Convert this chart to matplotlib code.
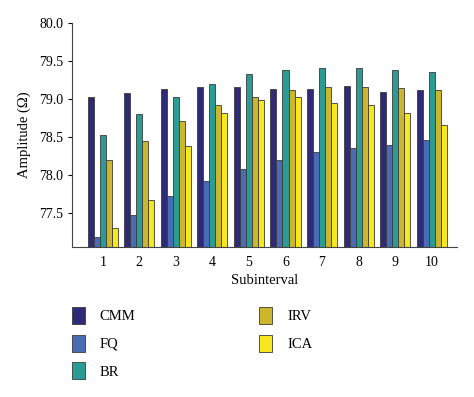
#!/usr/bin/env python
"""
Grouped bar chart of amplitude per subinterval for five methods
"""
import matplotlib.pyplot as plt
import numpy as np

plt.rcParams['font.family'] = ['Liberation Serif', 'DejaVu Serif']

# data
subintervals = ["1", "2", "3", "4", "5", "6", "7", "8", "9", "10"]
methods = ["CMM", "FQ", "BR", "IRV", "ICA"]
cmm = [79.03, 79.08, 79.13, 79.15, 79.15, 79.13, 79.13, 79.17, 79.09, 79.11]
fq = [77.18, 77.47, 77.72, 77.92, 78.08, 78.20, 78.30, 78.35, 78.40, 78.46]
br = [78.53, 78.80, 79.02, 79.20, 79.33, 79.38, 79.40, 79.41, 79.38, 79.35]
irv = [78.19, 78.45, 78.71, 78.92, 79.02, 79.12, 79.15, 79.15, 79.14, 79.11]
ica = [77.31, 77.67, 78.38, 78.81, 78.99, 79.02, 78.95, 78.92, 78.82, 78.66]

colors = ["#2e2a78", "#4a6cb4", "#2b9c94", "#cbb62c", "#f6e71f"]
BOTTOM = 77.05

if __name__ == "__main__":
    fig = plt.figure(figsize=(4.74, 3.97), dpi=100)
    ax = fig.add_axes([0.152, 0.377, 0.812, 0.566])

    x = np.arange(1, len(subintervals) + 1)
    width = 0.165
    series = [cmm, fq, br, irv, ica]
    for i, (name, vals, col) in enumerate(zip(methods, series, colors)):
        heights = np.array(vals) - BOTTOM
        ax.bar(x + (i - 2) * width, heights, width, bottom=BOTTOM, color=col,
               edgecolor="#3a3a3a", linewidth=0.6, label=name)

    ax.set_ylim(BOTTOM, 80.0)
    ax.set_xlim(0.16, 10.69)
    ax.set_yticks([77.5, 78.0, 78.5, 79.0, 79.5, 80.0])
    ax.set_yticklabels(["77.5", "78.0", "78.5", "79.0", "79.5", "80.0"])
    ax.set_xticks(x)
    ax.set_xticklabels(subintervals)
    ax.tick_params(axis="x", length=0, labelsize=10, pad=6)
    ax.tick_params(axis="y", length=3, labelsize=10, width=0.8)
    ax.spines["top"].set_visible(False)
    ax.spines["right"].set_visible(False)
    ax.spines["left"].set_color("#444444")
    ax.spines["bottom"].set_color("#444444")
    ax.set_xlabel("Subinterval", fontsize=10.5, labelpad=4)
    ax.set_ylabel("Amplitude (Ω)", fontsize=10.5, labelpad=6)

    handles, labels = ax.get_legend_handles_labels()
    fig.legend(handles, labels, ncol=2, loc="upper left",
               bbox_to_anchor=(0.124, 0.26), frameon=False, fontsize=10.5,
               handlelength=0.9, handleheight=1.4, columnspacing=8.5,
               labelspacing=0.75, handletextpad=1.0)

    plt.savefig("out.png", dpi=100)
